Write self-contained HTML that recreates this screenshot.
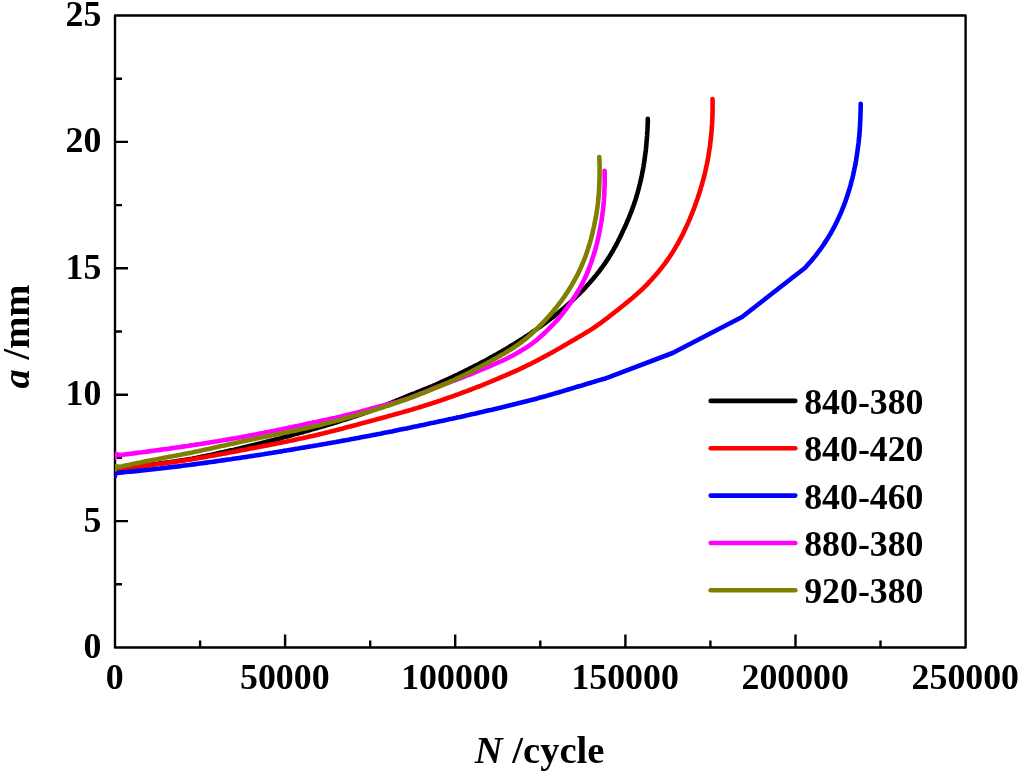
<!DOCTYPE html>
<html><head><meta charset="utf-8"><title>a-N curves</title>
<style>
html,body{margin:0;padding:0;background:#fff;}
body{width:1020px;height:773px;overflow:hidden;}
svg{display:block;}
text{font-family:"Liberation Serif","Times New Roman",serif;font-weight:bold;fill:#000;}
.tk{font-size:35.8px;}
.ti{font-size:38.6px;}
.cv{fill:none;stroke-width:4.6;stroke-linecap:round;stroke-linejoin:round;}
.ax{stroke:#000;stroke-width:2.4;fill:none;stroke-linejoin:round;stroke-linecap:butt;}
</style></head><body>
<svg width="1020" height="773" viewBox="0 0 1020 773">
<rect x="0" y="0" width="1020" height="773" fill="#fff"/>
<rect class="ax" x="115.0" y="15.5" width="850.6" height="632.0"/>
<path class="ax" d="M200.1,647.5V640.5 M115.0,584.3H122.0 M285.1,647.5V634.5 M115.0,521.1H128.0 M370.2,647.5V640.5 M115.0,457.9H122.0 M455.2,647.5V634.5 M115.0,394.7H128.0 M540.3,647.5V640.5 M115.0,331.5H122.0 M625.4,647.5V634.5 M115.0,268.3H128.0 M710.4,647.5V640.5 M115.0,205.1H122.0 M795.5,647.5V634.5 M115.0,141.9H128.0 M880.5,647.5V640.5 M115.0,78.7H122.0"/>
<clipPath id="plot"><rect x="115.0" y="15.5" width="850.6" height="632.0"/></clipPath>
<g clip-path="url(#plot)">
<path class="cv" stroke="#000000" d="M115.0,469.5 118.0,469.8 120.1,469.4 122.2,469.1 124.4,468.7 126.5,468.4 128.6,468.0 130.8,467.7 132.9,467.3 135.0,467.0 137.2,466.7 139.3,466.4 141.4,466.1 143.5,465.8 145.7,465.5 147.8,465.2 149.9,464.9 152.0,464.6 154.1,464.3 156.3,464.0 158.4,463.7 160.5,463.4 162.6,463.1 164.7,462.8 166.8,462.5 168.9,462.3 171.0,462.0 173.1,461.7 175.2,461.4 177.3,461.0 179.4,460.7 181.5,460.4 183.6,460.1 185.7,459.7 187.8,459.4 189.9,459.0 192.0,458.7 194.0,458.3 196.1,457.9 198.2,457.5 200.3,457.1 202.4,456.6 204.4,456.2 206.5,455.8 208.6,455.3 210.7,454.9 212.7,454.5 214.8,454.0 216.9,453.6 218.9,453.1 221.0,452.6 223.0,452.2 225.1,451.7 227.1,451.3 229.2,450.8 231.2,450.3 233.3,449.9 235.3,449.4 237.4,448.9 239.4,448.5 241.5,448.0 243.5,447.5 245.5,447.0 247.6,446.5 249.6,446.0 251.6,445.5 253.7,445.1 255.7,444.6 257.7,444.1 259.7,443.6 261.7,443.0 263.8,442.5 265.8,442.0 267.8,441.5 269.8,441.0 271.8,440.5 273.8,440.0 275.8,439.4 277.8,438.9 279.8,438.4 281.8,437.9 283.8,437.3 285.8,436.8 287.8,436.2 289.7,435.7 291.7,435.2 293.7,434.6 295.7,434.1 297.7,433.5 299.6,433.0 301.6,432.4 303.6,431.9 305.5,431.3 307.5,430.8 309.5,430.2 311.4,429.6 313.4,429.1 315.3,428.5 317.3,428.0 319.2,427.4 321.2,426.8 323.1,426.2 325.0,425.7 327.0,425.1 328.9,424.5 330.8,423.9 332.8,423.4 334.7,422.8 336.6,422.2 338.5,421.6 340.4,421.0 342.3,420.4 344.3,419.8 346.2,419.2 348.1,418.6 350.0,418.0 351.9,417.4 353.8,416.8 355.7,416.1 357.5,415.5 359.4,414.9 361.3,414.2 363.2,413.6 365.1,412.9 367.0,412.3 368.8,411.6 370.7,410.9 372.6,410.2 374.4,409.5 376.3,408.8 378.1,408.0 380.0,407.3 381.8,406.6 383.7,405.8 385.5,405.1 387.4,404.3 389.2,403.5 391.0,402.8 392.9,402.0 394.7,401.3 396.5,400.5 398.4,399.8 400.2,399.0 402.0,398.3 403.8,397.6 405.6,396.8 407.4,396.1 409.2,395.4 411.0,394.7 412.8,394.0 414.6,393.3 416.4,392.5 418.2,391.8 420.0,391.1 421.7,390.4 423.5,389.7 425.3,389.0 427.1,388.3 428.8,387.5 430.6,386.8 432.3,386.1 434.1,385.3 435.8,384.6 437.6,383.8 439.3,383.0 441.1,382.2 442.8,381.5 444.5,380.7 446.3,379.9 448.0,379.1 449.7,378.3 451.4,377.5 453.2,376.7 454.9,375.9 456.6,375.1 458.3,374.3 460.0,373.4 461.7,372.6 463.4,371.8 465.1,370.9 466.7,370.1 468.4,369.3 470.1,368.4 471.8,367.6 473.4,366.7 475.1,365.9 476.8,365.0 478.4,364.2 480.1,363.3 481.7,362.4 483.4,361.5 485.0,360.7 486.7,359.8 488.3,358.9 489.9,358.0 491.5,357.1 493.2,356.2 494.8,355.3 496.4,354.4 498.0,353.5 499.6,352.6 501.2,351.7 502.8,350.7 504.4,349.8 506.0,348.9 507.6,347.9 509.2,347.0 510.7,346.0 512.3,345.1 513.9,344.1 515.4,343.2 517.0,342.2 518.5,341.2 520.0,340.3 521.6,339.3 523.1,338.3 524.6,337.3 526.2,336.3 527.7,335.3 529.2,334.3 530.7,333.3 532.2,332.2 533.7,331.2 535.2,330.2 536.7,329.1 538.1,328.1 539.6,327.0 541.1,326.0 542.6,324.9 544.0,323.8 545.5,322.8 546.9,321.7 548.4,320.6 549.8,319.5 551.2,318.4 552.7,317.3 554.1,316.1 555.5,315.0 556.9,313.9 558.3,312.7 559.7,311.6 561.1,310.4 562.5,309.3 563.9,308.1 565.2,306.9 566.6,305.7 567.9,304.5 569.3,303.3 570.6,302.1 571.9,300.9 573.2,299.7 574.5,298.4 575.8,297.2 577.1,295.9 578.4,294.7 579.7,293.4 580.9,292.1 582.2,290.9 583.4,289.6 584.7,288.3 585.9,287.0 587.1,285.6 588.3,284.3 589.5,283.0 590.7,281.6 591.8,280.3 593.0,278.9 594.1,277.6 595.3,276.2 596.4,274.8 597.5,273.4 598.6,272.0 599.7,270.6 600.7,269.2 601.8,267.7 602.9,266.3 603.9,264.8 604.9,263.4 605.9,261.9 606.9,260.4 607.9,258.9 608.9,257.4 609.8,255.9 610.7,254.4 611.7,252.8 612.6,251.3 613.5,249.7 614.3,248.2 615.2,246.6 616.1,245.0 616.9,243.4 617.8,241.8 618.6,240.1 619.4,238.5 620.2,236.9 621.0,235.2 621.8,233.5 622.6,231.8 623.4,230.1 624.2,228.4 625.0,226.7 625.8,225.0 626.5,223.2 627.3,221.5 628.0,219.7 628.8,217.9 629.5,216.2 630.2,214.3 631.0,212.5 631.7,210.7 632.3,208.9 633.0,207.0 633.7,205.1 634.3,203.3 634.9,201.4 635.6,199.4 636.2,197.5 636.7,195.6 637.3,193.6 637.9,191.7 638.4,189.7 638.9,187.7 639.4,185.7 639.9,183.7 640.4,181.7 640.9,179.6 641.3,177.6 641.8,175.5 642.2,173.4 642.6,171.3 643.0,169.2 643.4,167.1 643.7,164.9 644.1,162.8 644.4,160.6 644.7,158.4 645.0,156.2 645.3,154.0 645.6,151.7 645.9,149.5 646.1,147.2 646.3,144.9 646.5,142.6 646.7,140.3 646.9,138.0 647.1,135.7 647.2,133.3 647.4,130.9 647.5,128.5 647.6,126.1 647.7,123.7 647.8,121.3 647.8,118.8"/>
<path class="cv" stroke="#ff0000" d="M115.0,469.8 117.6,469.7 119.8,469.4 121.9,469.0 124.1,468.7 126.3,468.4 128.5,468.1 130.6,467.8 132.8,467.5 135.0,467.2 137.1,466.8 139.3,466.6 141.5,466.3 143.6,466.0 145.8,465.7 148.0,465.4 150.1,465.1 152.3,464.8 154.4,464.5 156.6,464.2 158.8,464.0 160.9,463.7 163.1,463.4 165.2,463.1 167.4,462.8 169.5,462.5 171.7,462.2 173.8,461.9 176.0,461.6 178.1,461.3 180.3,461.0 182.4,460.7 184.6,460.4 186.7,460.0 188.9,459.7 191.0,459.4 193.1,459.0 195.3,458.7 197.4,458.3 199.5,458.0 201.7,457.6 203.8,457.3 205.9,456.9 208.1,456.5 210.2,456.1 212.3,455.7 214.5,455.4 216.6,455.0 218.7,454.6 220.8,454.2 223.0,453.8 225.1,453.4 227.2,453.0 229.3,452.6 231.4,452.2 233.5,451.8 235.7,451.4 237.8,451.0 239.9,450.6 242.0,450.2 244.1,449.8 246.2,449.4 248.3,449.0 250.4,448.6 252.5,448.2 254.6,447.8 256.7,447.4 258.8,447.0 260.9,446.6 263.0,446.2 265.1,445.8 267.1,445.4 269.2,445.0 271.3,444.6 273.4,444.2 275.5,443.8 277.5,443.3 279.6,442.9 281.7,442.5 283.8,442.1 285.8,441.7 287.9,441.2 290.0,440.8 292.0,440.4 294.1,439.9 296.2,439.5 298.2,439.1 300.3,438.6 302.3,438.2 304.4,437.7 306.4,437.3 308.5,436.8 310.5,436.3 312.6,435.9 314.6,435.4 316.7,434.9 318.7,434.4 320.7,433.9 322.8,433.5 324.8,433.0 326.8,432.5 328.8,432.0 330.9,431.4 332.9,430.9 334.9,430.4 336.9,429.9 338.9,429.4 341.0,428.9 343.0,428.4 345.0,427.8 347.0,427.3 349.0,426.8 351.0,426.3 353.0,425.7 355.0,425.2 357.0,424.7 359.0,424.1 361.0,423.6 362.9,423.0 364.9,422.5 366.9,422.0 368.9,421.4 370.9,420.9 372.8,420.4 374.8,419.9 376.8,419.3 378.7,418.8 380.7,418.3 382.7,417.7 384.6,417.2 386.6,416.7 388.5,416.1 390.5,415.6 392.4,415.1 394.4,414.5 396.3,414.0 398.2,413.5 400.2,412.9 402.1,412.4 404.0,411.8 406.0,411.3 407.9,410.7 409.8,410.1 411.7,409.6 413.7,409.0 415.6,408.4 417.5,407.9 419.4,407.3 421.3,406.7 423.2,406.1 425.1,405.5 427.0,404.9 428.9,404.3 430.8,403.7 432.6,403.1 434.5,402.5 436.4,401.9 438.3,401.2 440.2,400.6 442.0,400.0 443.9,399.3 445.8,398.7 447.6,398.0 449.5,397.4 451.3,396.7 453.2,396.1 455.0,395.4 456.9,394.7 458.7,394.1 460.6,393.4 462.4,392.7 464.2,392.0 466.1,391.4 467.9,390.7 469.7,390.0 471.5,389.3 473.3,388.6 475.1,387.9 476.9,387.2 478.8,386.5 480.6,385.8 482.4,385.1 484.1,384.3 485.9,383.6 487.7,382.9 489.5,382.2 491.3,381.4 493.1,380.7 494.8,380.0 496.6,379.2 498.4,378.5 500.1,377.7 501.9,377.0 503.6,376.2 505.4,375.5 507.1,374.7 508.9,374.0 510.6,373.2 512.4,372.4 514.1,371.6 515.8,370.9 517.5,370.1 519.3,369.3 521.0,368.5 522.7,367.7 524.4,366.9 526.1,366.0 527.8,365.2 529.5,364.4 531.2,363.5 532.9,362.7 534.6,361.8 536.3,361.0 537.9,360.1 539.6,359.2 541.3,358.3 542.9,357.4 544.6,356.5 546.3,355.6 547.9,354.7 549.6,353.8 551.2,352.9 552.8,352.0 554.5,351.1 556.1,350.1 557.7,349.2 559.4,348.3 561.0,347.4 562.6,346.4 564.2,345.5 565.8,344.6 567.4,343.6 569.0,342.7 570.6,341.8 572.2,340.8 573.8,339.9 575.4,339.0 577.0,338.0 578.5,337.1 580.1,336.2 581.7,335.3 583.2,334.3 584.8,333.4 586.3,332.5 587.9,331.5 589.4,330.6 591.0,329.6 592.5,328.6 594.0,327.6 595.6,326.5 597.1,325.5 598.6,324.4 600.1,323.3 601.6,322.3 603.1,321.1 604.6,320.0 606.1,318.9 607.6,317.8 609.1,316.6 610.5,315.5 612.0,314.3 613.5,313.2 614.9,312.0 616.4,310.9 617.9,309.7 619.3,308.6 620.7,307.4 622.2,306.3 623.6,305.2 625.0,304.0 626.4,302.9 627.8,301.8 629.1,300.7 630.4,299.6 631.8,298.5 633.1,297.4 634.3,296.3 635.6,295.2 636.8,294.1 638.0,293.0 639.2,292.0 640.4,290.9 641.6,289.8 642.8,288.6 644.0,287.5 645.1,286.3 646.3,285.2 647.5,284.0 648.6,282.7 649.8,281.5 651.0,280.2 652.2,278.9 653.3,277.6 654.5,276.3 655.7,274.9 656.9,273.5 658.0,272.2 659.2,270.7 660.4,269.3 661.5,267.9 662.7,266.4 663.8,264.9 665.0,263.5 666.1,261.9 667.1,260.4 668.2,258.9 669.3,257.4 670.3,255.8 671.3,254.2 672.3,252.7 673.3,251.1 674.3,249.5 675.3,247.9 676.2,246.2 677.2,244.6 678.1,243.0 679.0,241.3 679.9,239.6 680.8,238.0 681.7,236.3 682.6,234.6 683.4,232.9 684.2,231.2 685.0,229.5 685.8,227.8 686.6,226.1 687.4,224.4 688.2,222.6 688.9,220.9 689.7,219.1 690.4,217.4 691.1,215.6 691.9,213.8 692.6,212.0 693.3,210.2 694.0,208.4 694.7,206.6 695.3,204.8 696.0,202.9 696.6,201.1 697.3,199.2 697.9,197.4 698.5,195.5 699.2,193.6 699.8,191.7 700.4,189.8 700.9,187.8 701.5,185.9 702.1,184.0 702.6,182.0 703.1,180.0 703.7,178.0 704.2,176.0 704.7,174.0 705.2,172.0 705.6,170.0 706.1,167.9 706.5,165.8 707.0,163.8 707.4,161.7 707.8,159.6 708.2,157.4 708.5,155.3 708.9,153.2 709.2,151.0 709.5,148.8 709.9,146.6 710.2,144.4 710.4,142.2 710.7,139.9 710.9,137.7 711.2,135.4 711.4,133.1 711.6,130.8 711.8,128.5 711.9,126.1 712.1,123.7 712.2,121.4 712.3,119.0 712.4,116.6 712.5,114.1 712.5,111.7 712.6,109.2 712.6,106.7 712.6,104.2 712.6,101.7 712.5,99.1"/>
<path class="cv" stroke="#0000ff" d="M115.0,476.2 115.0,473.2 119.6,472.7 121.8,472.4 124.1,472.2 126.3,472.0 128.6,471.8 130.9,471.6 133.1,471.4 135.4,471.1 137.6,470.9 139.8,470.7 142.1,470.5 144.3,470.2 146.6,470.0 148.8,469.7 151.1,469.5 153.3,469.2 155.5,469.0 157.8,468.7 160.0,468.5 162.2,468.2 164.5,468.0 166.7,467.7 168.9,467.4 171.2,467.2 173.4,466.9 175.6,466.6 177.9,466.4 180.1,466.1 182.3,465.8 184.5,465.5 186.7,465.2 189.0,465.0 191.2,464.7 193.4,464.4 195.6,464.1 197.8,463.8 200.0,463.5 202.3,463.2 204.5,462.9 206.7,462.6 208.9,462.3 211.1,462.0 213.3,461.7 215.5,461.4 217.7,461.0 219.9,460.7 222.1,460.4 224.3,460.1 226.5,459.8 228.7,459.5 230.9,459.2 233.1,458.8 235.3,458.5 237.5,458.2 239.7,457.9 241.9,457.5 244.0,457.2 246.2,456.9 248.4,456.5 250.6,456.2 252.8,455.9 255.0,455.5 257.1,455.2 259.3,454.9 261.5,454.5 263.7,454.2 265.9,453.8 268.0,453.5 270.2,453.1 272.4,452.8 274.5,452.4 276.7,452.1 278.9,451.7 281.0,451.4 283.2,451.0 285.4,450.6 287.5,450.3 289.7,449.9 291.9,449.6 294.0,449.2 296.2,448.8 298.3,448.5 300.5,448.1 302.6,447.7 304.8,447.4 306.9,447.0 309.1,446.6 311.2,446.3 313.4,445.9 315.5,445.5 317.7,445.2 319.8,444.8 322.0,444.4 324.1,444.0 326.2,443.7 328.4,443.3 330.5,442.9 332.6,442.5 334.8,442.2 336.9,441.8 339.0,441.4 341.2,441.0 343.3,440.6 345.4,440.3 347.5,439.9 349.7,439.5 351.8,439.1 353.9,438.7 356.0,438.3 358.2,437.9 360.3,437.5 362.4,437.1 364.5,436.7 366.6,436.3 368.7,435.9 370.8,435.5 373.0,435.1 375.1,434.7 377.2,434.3 379.3,433.9 381.4,433.5 383.5,433.0 385.6,432.6 387.7,432.2 389.8,431.8 391.9,431.4 394.0,430.9 396.1,430.5 398.2,430.1 400.3,429.6 402.4,429.2 404.4,428.8 406.5,428.4 408.6,427.9 410.7,427.5 412.8,427.0 414.9,426.6 417.0,426.2 419.0,425.7 421.1,425.3 423.2,424.9 425.3,424.4 427.3,424.0 429.4,423.5 431.5,423.1 433.6,422.7 435.6,422.2 437.7,421.8 439.8,421.3 441.8,420.9 443.9,420.5 446.0,420.0 448.0,419.6 450.1,419.1 452.1,418.7 454.2,418.2 456.3,417.8 458.3,417.3 460.4,416.9 462.4,416.4 464.5,416.0 466.5,415.5 468.6,415.1 470.6,414.6 472.7,414.1 474.7,413.7 476.8,413.2 478.8,412.7 480.8,412.2 482.9,411.8 484.9,411.3 486.9,410.8 489.0,410.3 491.0,409.9 493.0,409.4 495.1,408.9 497.1,408.4 499.1,407.9 501.2,407.5 503.2,407.0 505.2,406.5 507.2,406.0 509.3,405.5 511.3,405.0 513.3,404.5 515.3,404.0 517.3,403.5 519.3,403.0 521.4,402.5 523.4,402.0 525.4,401.5 527.4,401.0 529.4,400.5 531.4,399.9 533.4,399.4 535.4,398.9 537.4,398.4 539.4,397.8 541.4,397.3 543.4,396.7 545.4,396.2 547.4,395.6 549.4,395.0 551.4,394.5 553.4,393.9 555.4,393.3 557.3,392.8 559.3,392.2 561.3,391.6 563.3,391.0 565.3,390.4 567.3,389.8 569.2,389.2 571.2,388.6 573.2,388.0 575.2,387.4 577.1,386.8 579.1,386.2 581.1,385.7 583.1,385.1 585.0,384.5 587.0,383.9 589.0,383.3 590.9,382.7 592.9,382.1 594.9,381.5 596.8,380.9 604.4,378.8 672.6,353.0 742.0,317.0 805.2,267.7 808.8,263.6 810.0,262.3 811.2,260.9 812.4,259.5 813.5,258.1 814.7,256.7 815.8,255.3 816.9,253.8 818.0,252.4 819.1,250.9 820.2,249.5 821.3,248.0 822.3,246.5 823.4,245.0 824.4,243.4 825.4,241.9 826.4,240.4 827.4,238.8 828.4,237.2 829.3,235.6 830.3,234.0 831.2,232.4 832.1,230.8 833.0,229.1 833.9,227.5 834.8,225.8 835.6,224.1 836.5,222.4 837.3,220.7 838.1,218.9 839.0,217.2 839.7,215.4 840.5,213.7 841.3,211.9 842.0,210.1 842.8,208.3 843.5,206.4 844.2,204.6 844.9,202.7 845.6,200.9 846.2,199.0 846.9,197.1 847.5,195.2 848.1,193.2 848.7,191.3 849.3,189.3 849.9,187.4 850.5,185.4 851.0,183.4 851.5,181.3 852.1,179.3 852.6,177.3 853.1,175.2 853.5,173.1 854.0,171.0 854.4,168.9 854.9,166.8 855.3,164.7 855.7,162.5 856.1,160.4 856.4,158.2 856.8,156.0 857.1,153.8 857.4,151.5 857.7,149.3 858.0,147.0 858.3,144.8 858.6,142.5 858.8,140.2 859.1,137.9 859.3,135.5 859.5,133.2 859.7,130.8 859.8,128.4 860.0,126.0 860.1,123.6 860.2,121.2 860.4,118.8 860.4,116.3 860.5,113.8 860.6,111.3 860.6,108.8 860.7,106.3 860.7,103.8"/>
<path class="cv" stroke="#ff00ff" d="M115.0,457.8 115.0,453.6 120.2,455.1 122.4,454.8 124.6,454.5 126.8,454.2 129.0,453.9 131.2,453.7 133.4,453.4 135.6,453.1 137.7,452.8 139.9,452.5 142.1,452.3 144.3,452.0 146.5,451.7 148.6,451.4 150.8,451.1 153.0,450.8 155.2,450.5 157.3,450.2 159.5,449.9 161.7,449.6 163.8,449.3 166.0,449.1 168.2,448.8 170.3,448.4 172.5,448.1 174.7,447.8 176.8,447.5 179.0,447.2 181.1,446.9 183.3,446.6 185.5,446.3 187.6,446.0 189.8,445.6 191.9,445.3 194.1,445.0 196.2,444.6 198.4,444.3 200.5,444.0 202.6,443.6 204.8,443.3 206.9,442.9 209.1,442.6 211.2,442.2 213.4,441.9 215.5,441.5 217.6,441.2 219.8,440.8 221.9,440.5 224.0,440.1 226.1,439.7 228.3,439.4 230.4,439.0 232.5,438.6 234.7,438.3 236.8,437.9 238.9,437.5 241.0,437.2 243.1,436.8 245.2,436.4 247.4,436.0 249.5,435.6 251.6,435.2 253.7,434.8 255.8,434.4 257.9,434.0 260.0,433.6 262.1,433.2 264.2,432.8 266.3,432.3 268.4,431.9 270.5,431.5 272.6,431.1 274.7,430.7 276.8,430.2 278.9,429.8 281.0,429.4 283.1,428.9 285.2,428.5 287.3,428.1 289.3,427.6 291.4,427.2 293.5,426.7 295.6,426.3 297.7,425.9 299.7,425.4 301.8,425.0 303.9,424.5 306.0,424.1 308.0,423.6 310.1,423.2 312.2,422.8 314.2,422.3 316.3,421.9 318.4,421.4 320.4,421.0 322.5,420.5 324.5,420.1 326.6,419.7 328.6,419.2 330.7,418.8 332.7,418.3 334.8,417.9 336.8,417.4 338.9,416.9 340.9,416.5 343.0,416.0 345.0,415.5 347.0,415.0 349.1,414.5 351.1,414.0 353.1,413.5 355.1,413.0 357.2,412.5 359.2,411.9 361.2,411.4 363.2,410.8 365.2,410.3 367.2,409.7 369.2,409.2 371.2,408.6 373.2,408.1 375.2,407.5 377.2,407.0 379.2,406.5 381.2,406.0 383.2,405.5 385.1,405.0 387.1,404.5 389.1,404.0 391.1,403.5 393.0,403.0 395.0,402.5 396.9,401.9 398.9,401.4 400.8,400.8 402.8,400.2 404.7,399.6 406.7,399.0 408.6,398.3 410.5,397.6 412.5,396.9 414.4,396.2 416.3,395.5 418.2,394.7 420.1,393.9 422.0,393.1 423.9,392.4 425.8,391.6 427.7,390.8 429.6,390.0 431.5,389.2 433.3,388.5 435.2,387.7 437.1,387.0 438.9,386.3 440.8,385.6 442.6,384.9 444.5,384.2 446.3,383.5 448.2,382.8 450.0,382.1 451.8,381.4 453.6,380.8 455.5,380.1 457.3,379.4 459.1,378.7 460.9,378.0 462.6,377.3 464.4,376.6 466.2,375.9 468.0,375.2 469.8,374.5 471.5,373.8 473.3,373.1 475.0,372.4 476.8,371.6 478.5,370.9 480.2,370.2 482.0,369.4 483.7,368.7 485.4,368.0 487.1,367.3 488.8,366.5 490.5,365.8 492.1,365.1 493.8,364.4 495.5,363.7 497.1,363.0 498.8,362.2 500.4,361.5 502.0,360.8 503.7,360.0 505.3,359.3 506.9,358.5 508.5,357.7 510.1,356.9 511.6,356.0 513.2,355.2 514.8,354.4 516.3,353.5 517.9,352.6 519.4,351.7 520.9,350.8 522.4,349.9 523.9,349.0 525.4,348.1 526.9,347.1 528.4,346.1 529.9,345.1 531.4,344.1 532.8,343.0 534.3,341.9 535.8,340.7 537.3,339.4 538.9,338.1 540.4,336.8 541.9,335.4 543.5,334.0 545.0,332.5 546.5,331.1 548.0,329.6 549.5,328.1 550.9,326.7 552.3,325.3 553.7,323.9 555.0,322.5 556.2,321.2 557.4,319.9 558.6,318.6 559.7,317.3 560.8,316.0 561.8,314.6 562.9,313.3 563.9,312.0 564.9,310.7 565.9,309.3 566.9,307.9 567.9,306.5 568.9,305.1 570.0,303.7 571.0,302.3 572.0,300.8 573.0,299.3 573.9,297.8 574.9,296.3 575.9,294.8 576.8,293.3 577.8,291.7 578.7,290.2 579.6,288.6 580.5,287.0 581.3,285.4 582.2,283.8 583.0,282.1 583.8,280.5 584.6,278.8 585.4,277.1 586.1,275.4 586.9,273.7 587.6,271.9 588.3,270.2 589.0,268.4 589.7,266.6 590.3,264.8 591.0,263.0 591.6,261.2 592.2,259.3 592.8,257.5 593.4,255.6 594.0,253.7 594.6,251.8 595.2,249.8 595.7,247.9 596.2,245.9 596.8,243.9 597.3,241.9 597.7,239.9 598.2,237.9 598.7,235.8 599.1,233.7 599.5,231.6 599.9,229.5 600.3,227.4 600.7,225.3 601.1,223.1 601.5,220.9 601.8,218.7 602.1,216.5 602.4,214.3 602.7,212.0 603.0,209.7 603.2,207.4 603.5,205.1 603.7,202.8 603.9,200.4 604.0,198.1 604.2,195.7 604.3,193.3 604.4,190.8 604.5,188.4 604.6,185.9 604.7,183.5 604.7,180.9 604.7,178.4 604.7,175.9 604.6,173.3 604.6,170.7"/>
<path class="cv" stroke="#808000" d="M115.0,469.6 115.0,466.4 120.6,466.7 122.6,466.3 124.6,465.8 126.6,465.3 128.6,464.9 130.6,464.5 132.7,464.0 134.7,463.6 136.7,463.2 138.7,462.8 140.8,462.4 142.8,461.9 144.8,461.5 146.9,461.1 148.9,460.7 150.9,460.3 153.0,459.9 155.0,459.5 157.1,459.2 159.1,458.8 161.2,458.4 163.2,458.0 165.3,457.6 167.3,457.2 169.4,456.8 171.5,456.4 173.5,456.1 175.6,455.7 177.6,455.3 179.7,454.9 181.8,454.5 183.8,454.1 185.9,453.7 188.0,453.3 190.0,452.9 192.1,452.5 194.2,452.0 196.3,451.6 198.3,451.2 200.4,450.7 202.5,450.3 204.6,449.8 206.6,449.3 208.7,448.9 210.8,448.4 212.9,448.0 214.9,447.5 217.0,447.0 219.1,446.6 221.2,446.1 223.3,445.7 225.3,445.2 227.4,444.7 229.5,444.3 231.6,443.8 233.7,443.4 235.7,442.9 237.8,442.5 239.9,442.0 242.0,441.5 244.1,441.1 246.1,440.7 248.2,440.2 250.3,439.8 252.4,439.3 254.5,438.9 256.5,438.5 258.6,438.1 260.7,437.6 262.8,437.2 264.8,436.8 266.9,436.4 269.0,436.0 271.0,435.5 273.1,435.1 275.2,434.7 277.3,434.3 279.3,433.9 281.4,433.4 283.4,433.0 285.5,432.6 287.6,432.2 289.6,431.7 291.7,431.3 293.7,430.9 295.8,430.4 297.8,430.0 299.9,429.6 301.9,429.1 304.0,428.7 306.0,428.2 308.1,427.7 310.1,427.3 312.1,426.8 314.2,426.3 316.2,425.8 318.3,425.4 320.3,424.9 322.3,424.4 324.3,423.8 326.4,423.3 328.4,422.8 330.4,422.3 332.4,421.8 334.4,421.3 336.4,420.7 338.4,420.2 340.4,419.7 342.4,419.2 344.4,418.6 346.4,418.1 348.4,417.5 350.4,417.0 352.4,416.4 354.4,415.9 356.3,415.3 358.3,414.8 360.3,414.2 362.2,413.6 364.2,413.1 366.2,412.5 368.1,411.9 370.1,411.3 372.0,410.7 374.0,410.1 375.9,409.5 377.8,408.9 379.8,408.3 381.7,407.7 383.6,407.1 385.5,406.4 387.5,405.8 389.4,405.2 391.3,404.6 393.2,403.9 395.1,403.3 397.0,402.6 398.9,402.0 400.8,401.3 402.6,400.6 404.5,400.0 406.4,399.3 408.2,398.6 410.1,397.9 412.0,397.2 413.8,396.6 415.7,395.9 417.5,395.2 419.3,394.4 421.2,393.7 423.0,393.0 424.8,392.3 426.6,391.6 428.4,390.9 430.2,390.1 432.0,389.4 433.8,388.7 435.6,387.9 437.4,387.2 439.2,386.5 440.9,385.7 442.7,385.0 444.5,384.2 446.2,383.4 448.0,382.7 449.7,381.9 451.4,381.1 453.2,380.3 454.9,379.5 456.6,378.7 458.3,377.9 460.0,377.1 461.7,376.3 463.4,375.5 465.1,374.7 466.8,373.8 468.4,373.0 470.1,372.1 471.7,371.3 473.4,370.4 475.0,369.5 476.7,368.7 478.3,367.8 479.9,366.9 481.5,366.0 483.1,365.2 484.7,364.3 486.3,363.4 487.9,362.5 489.5,361.7 491.1,360.8 492.6,360.0 494.2,359.1 495.7,358.3 497.3,357.4 498.8,356.5 500.3,355.7 501.8,354.8 503.4,354.0 504.9,353.1 506.3,352.2 507.8,351.3 509.3,350.4 510.8,349.5 512.2,348.6 513.7,347.6 515.1,346.6 516.6,345.7 518.0,344.7 519.4,343.7 520.8,342.6 522.2,341.6 523.6,340.5 525.0,339.4 526.4,338.3 527.7,337.2 529.1,336.0 530.5,334.8 531.8,333.6 533.2,332.4 534.5,331.1 535.8,329.9 537.2,328.6 538.5,327.2 539.8,325.9 541.2,324.5 542.5,323.1 543.8,321.7 545.2,320.3 546.5,318.8 547.8,317.4 549.1,315.9 550.4,314.4 551.7,313.0 552.9,311.5 554.1,310.0 555.3,308.6 556.5,307.1 557.7,305.6 558.8,304.2 559.9,302.7 561.0,301.3 562.1,299.8 563.1,298.3 564.2,296.9 565.2,295.4 566.2,293.9 567.2,292.4 568.1,290.9 569.1,289.4 570.1,287.9 571.0,286.3 571.9,284.8 572.8,283.2 573.7,281.6 574.6,280.0 575.5,278.4 576.3,276.8 577.2,275.2 578.0,273.6 578.8,271.9 579.6,270.2 580.4,268.5 581.2,266.8 581.9,265.1 582.6,263.4 583.4,261.6 584.1,259.9 584.8,258.1 585.5,256.3 586.1,254.5 586.8,252.6 587.4,250.8 588.0,248.9 588.6,247.1 589.2,245.2 589.8,243.2 590.3,241.3 590.9,239.3 591.4,237.4 591.9,235.4 592.4,233.4 592.9,231.4 593.3,229.3 593.8,227.3 594.2,225.2 594.7,223.1 595.1,221.0 595.5,218.9 595.9,216.7 596.3,214.6 596.6,212.4 597.0,210.2 597.3,208.0 597.6,205.7 597.9,203.5 598.1,201.2 598.4,198.9 598.6,196.6 598.8,194.3 598.9,191.9 599.1,189.5 599.2,187.2 599.3,184.8 599.4,182.3 599.5,179.9 599.6,177.5 599.6,175.0 599.6,172.5 599.6,170.0 599.6,167.4 599.6,164.9 599.5,162.3 599.4,159.7 599.3,157.1"/>
</g>
<text class="tk" x="114.7" y="689.3" text-anchor="middle">0</text>
<text class="tk" x="284.8" y="689.3" text-anchor="middle">50000</text>
<text class="tk" x="454.9" y="689.3" text-anchor="middle">100000</text>
<text class="tk" x="625.1" y="689.3" text-anchor="middle">150000</text>
<text class="tk" x="795.2" y="689.3" text-anchor="middle">200000</text>
<text class="tk" x="965.3" y="689.3" text-anchor="middle">250000</text>
<text class="tk" x="101.3" y="657.9" text-anchor="end">0</text>
<text class="tk" x="101.3" y="531.5" text-anchor="end">5</text>
<text class="tk" x="101.3" y="405.1" text-anchor="end">10</text>
<text class="tk" x="101.3" y="278.7" text-anchor="end">15</text>
<text class="tk" x="101.3" y="152.3" text-anchor="end">20</text>
<text class="tk" x="101.3" y="25.9" text-anchor="end">25</text>
<text class="ti" x="539.6" y="762.6" text-anchor="middle"><tspan font-style="italic">N</tspan> /cycle</text>
<text class="ti" transform="translate(29,336.5) rotate(-90)" text-anchor="middle"><tspan font-style="italic">a</tspan> /mm</text>
<path class="cv" stroke="#000000" d="M710.7,400.9H795.3"/>
<text class="tk" x="804.2" y="413.9">840-380</text>
<path class="cv" stroke="#ff0000" d="M710.7,448.2H795.3"/>
<text class="tk" x="804.2" y="461.2">840-420</text>
<path class="cv" stroke="#0000ff" d="M710.7,495.6H795.3"/>
<text class="tk" x="804.2" y="508.6">840-460</text>
<path class="cv" stroke="#ff00ff" d="M710.7,543.0H795.3"/>
<text class="tk" x="804.2" y="556.0">880-380</text>
<path class="cv" stroke="#808000" d="M710.7,590.3H795.3"/>
<text class="tk" x="804.2" y="603.3">920-380</text>
</svg>
</body></html>
